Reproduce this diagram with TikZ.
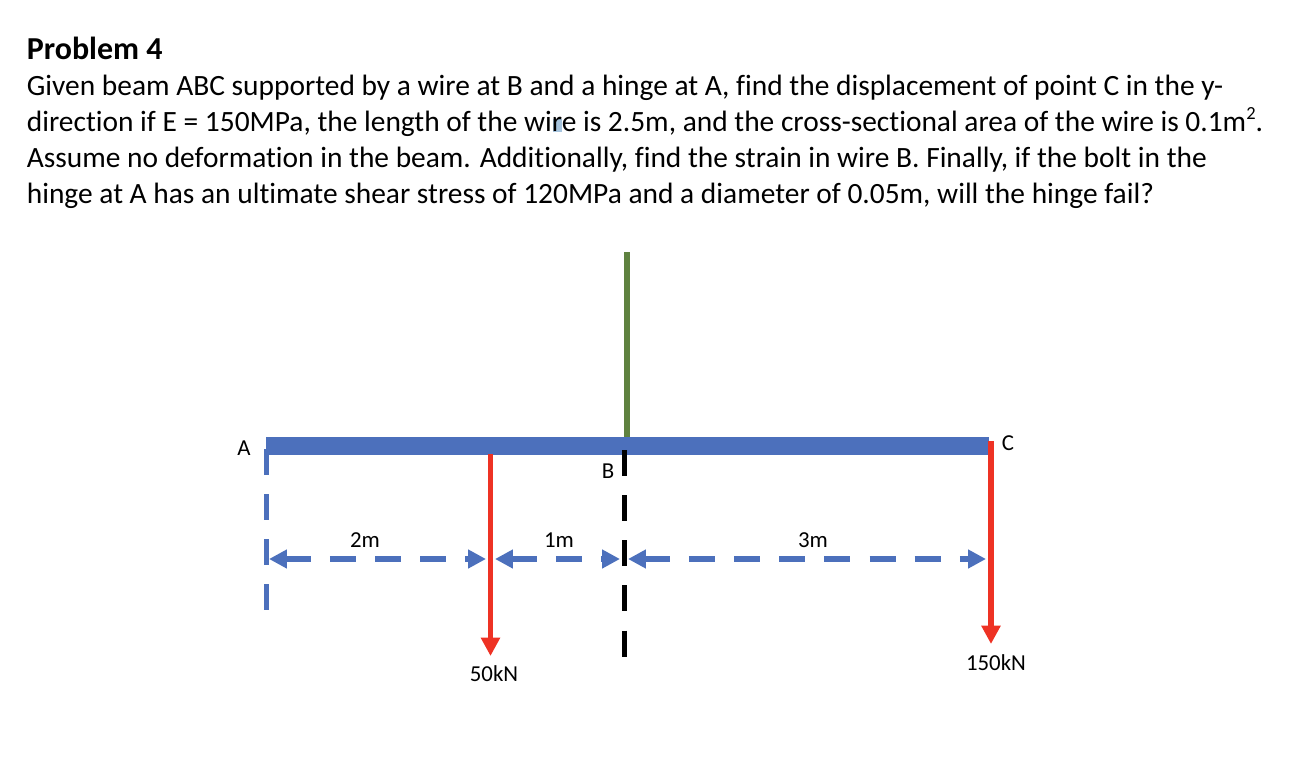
\documentclass[tikz,border=0pt]{standalone}
\usepackage{fontspec}
\setmainfont{Carlito}[Ligatures=NoCommon]
\usetikzlibrary{arrows.meta}
\definecolor{beamblue}{HTML}{4C70BC}
\definecolor{wiregreen}{HTML}{5F8240}
\definecolor{loadred}{HTML}{EE3224}
\definecolor{smudge}{HTML}{A6C4DE}
\tikzset{
	lab/.style={inner sep=0pt,font=\fontsize{13pt}{15pt}\selectfont},
	beam/.style={beamblue,line width=10.2pt},
	wire/.style={wiregreen,line width=3.4pt},
	load/.style={loadred,line width=3.4pt,-{Triangle[length=10.5pt,width=10.5pt]}},
	guide/.style={line width=3.4pt,dash pattern=on 14.8pt off 10.9pt},
	dim/.style={beamblue,line width=3.4pt,dash pattern=on 14.8pt off 10.9pt,dash phase=0.6pt,
		{Triangle[length=10.2pt,width=10.2pt]}-{Triangle[length=10.2pt,width=10.2pt]}},
}
\newcommand{\smallsq}{\raisebox{0.42em}{\fontsize{10.5pt}{12pt}\selectfont 2}}

\begin{document}
\begin{tikzpicture}[x=0.02cm,y=-0.02cm]
	\useasboundingbox (0,0) rectangle (1306,774);

	% mark in the word wire
	\fill [smudge] (553,119) rectangle (562,132);

	% problem text
	\node (title) [anchor=base west,inner sep=0pt,font=\fontsize{18.2pt}{20pt}\selectfont\bfseries] at (26.5,59) {Problem 4};
	\node (body) [anchor=north west,inner sep=0pt,align=left,font=\fontsize{16.75pt}{20.4pt}\selectfont] at (26.5,75) {Given beam ABC supported by a wire at B and a hinge at A, find the displacement of point C in the y-\\
		direction if E = 150MPa, the length of the wire is 2.5m, and the cross-sectional area of the wire is 0.1m\smallsq.\\
		Assume no deformation in the beam. Additionally, find the strain in wire B. Finally, if the bolt in the\\
		hinge at A has an ultimate shear stress of 120MPa and a diameter of 0.05m, will the hinge fail?};

	% points
	\coordinate (wtop) at (627,252);
	\coordinate (wbot) at (627,438);
	\coordinate (beamA) at (266,446);
	\coordinate (beamC) at (989,446);
	\coordinate (aTop) at (266.5,449);
	\coordinate (aBot) at (266.5,611);
	\coordinate (bTop) at (624.5,450);
	\coordinate (bBot) at (624.5,659);
	\coordinate (f1top) at (490.5,454);
	\coordinate (f1bot) at (490.5,656);
	\coordinate (f2top) at (991,441);
	\coordinate (f2bot) at (991,644);
	\coordinate (d0) at (269,559);
	\coordinate (d1) at (486,559);
	\coordinate (d2) at (495,559);
	\coordinate (d3) at (620,559);
	\coordinate (d4) at (628,559);
	\coordinate (d5) at (986,559);

	\draw [wire] (wtop) -- (wbot);
	\draw [guide,beamblue] (aTop) -- (aBot);
	\draw [beam] (beamA) -- (beamC);
	\draw [guide,black] (bTop) -- (bBot);

	\draw [load] (f1top) -- (f1bot);
	\draw [load] (f2top) -- (f2bot);

	\draw [dim] (d0) -- (d1);
	\draw [dim] (d2) -- (d3);
	\draw [dim] (d4) -- (d5);

	\node (lA) [lab] at (244,448) {A};
	\node (lB) [lab] at (608,471) {B};
	\node (lC) [lab] at (1008,443) {C};
	\node (l2m) [lab] at (365,540) {2m};
	\node (l1m) [lab] at (559,540) {1m};
	\node (l3m) [lab] at (813,540) {3m};
	\node (l50) [lab] at (494,674) {50kN};
	\node (l150) [lab] at (996,663) {150kN};
\end{tikzpicture}
\end{document}
